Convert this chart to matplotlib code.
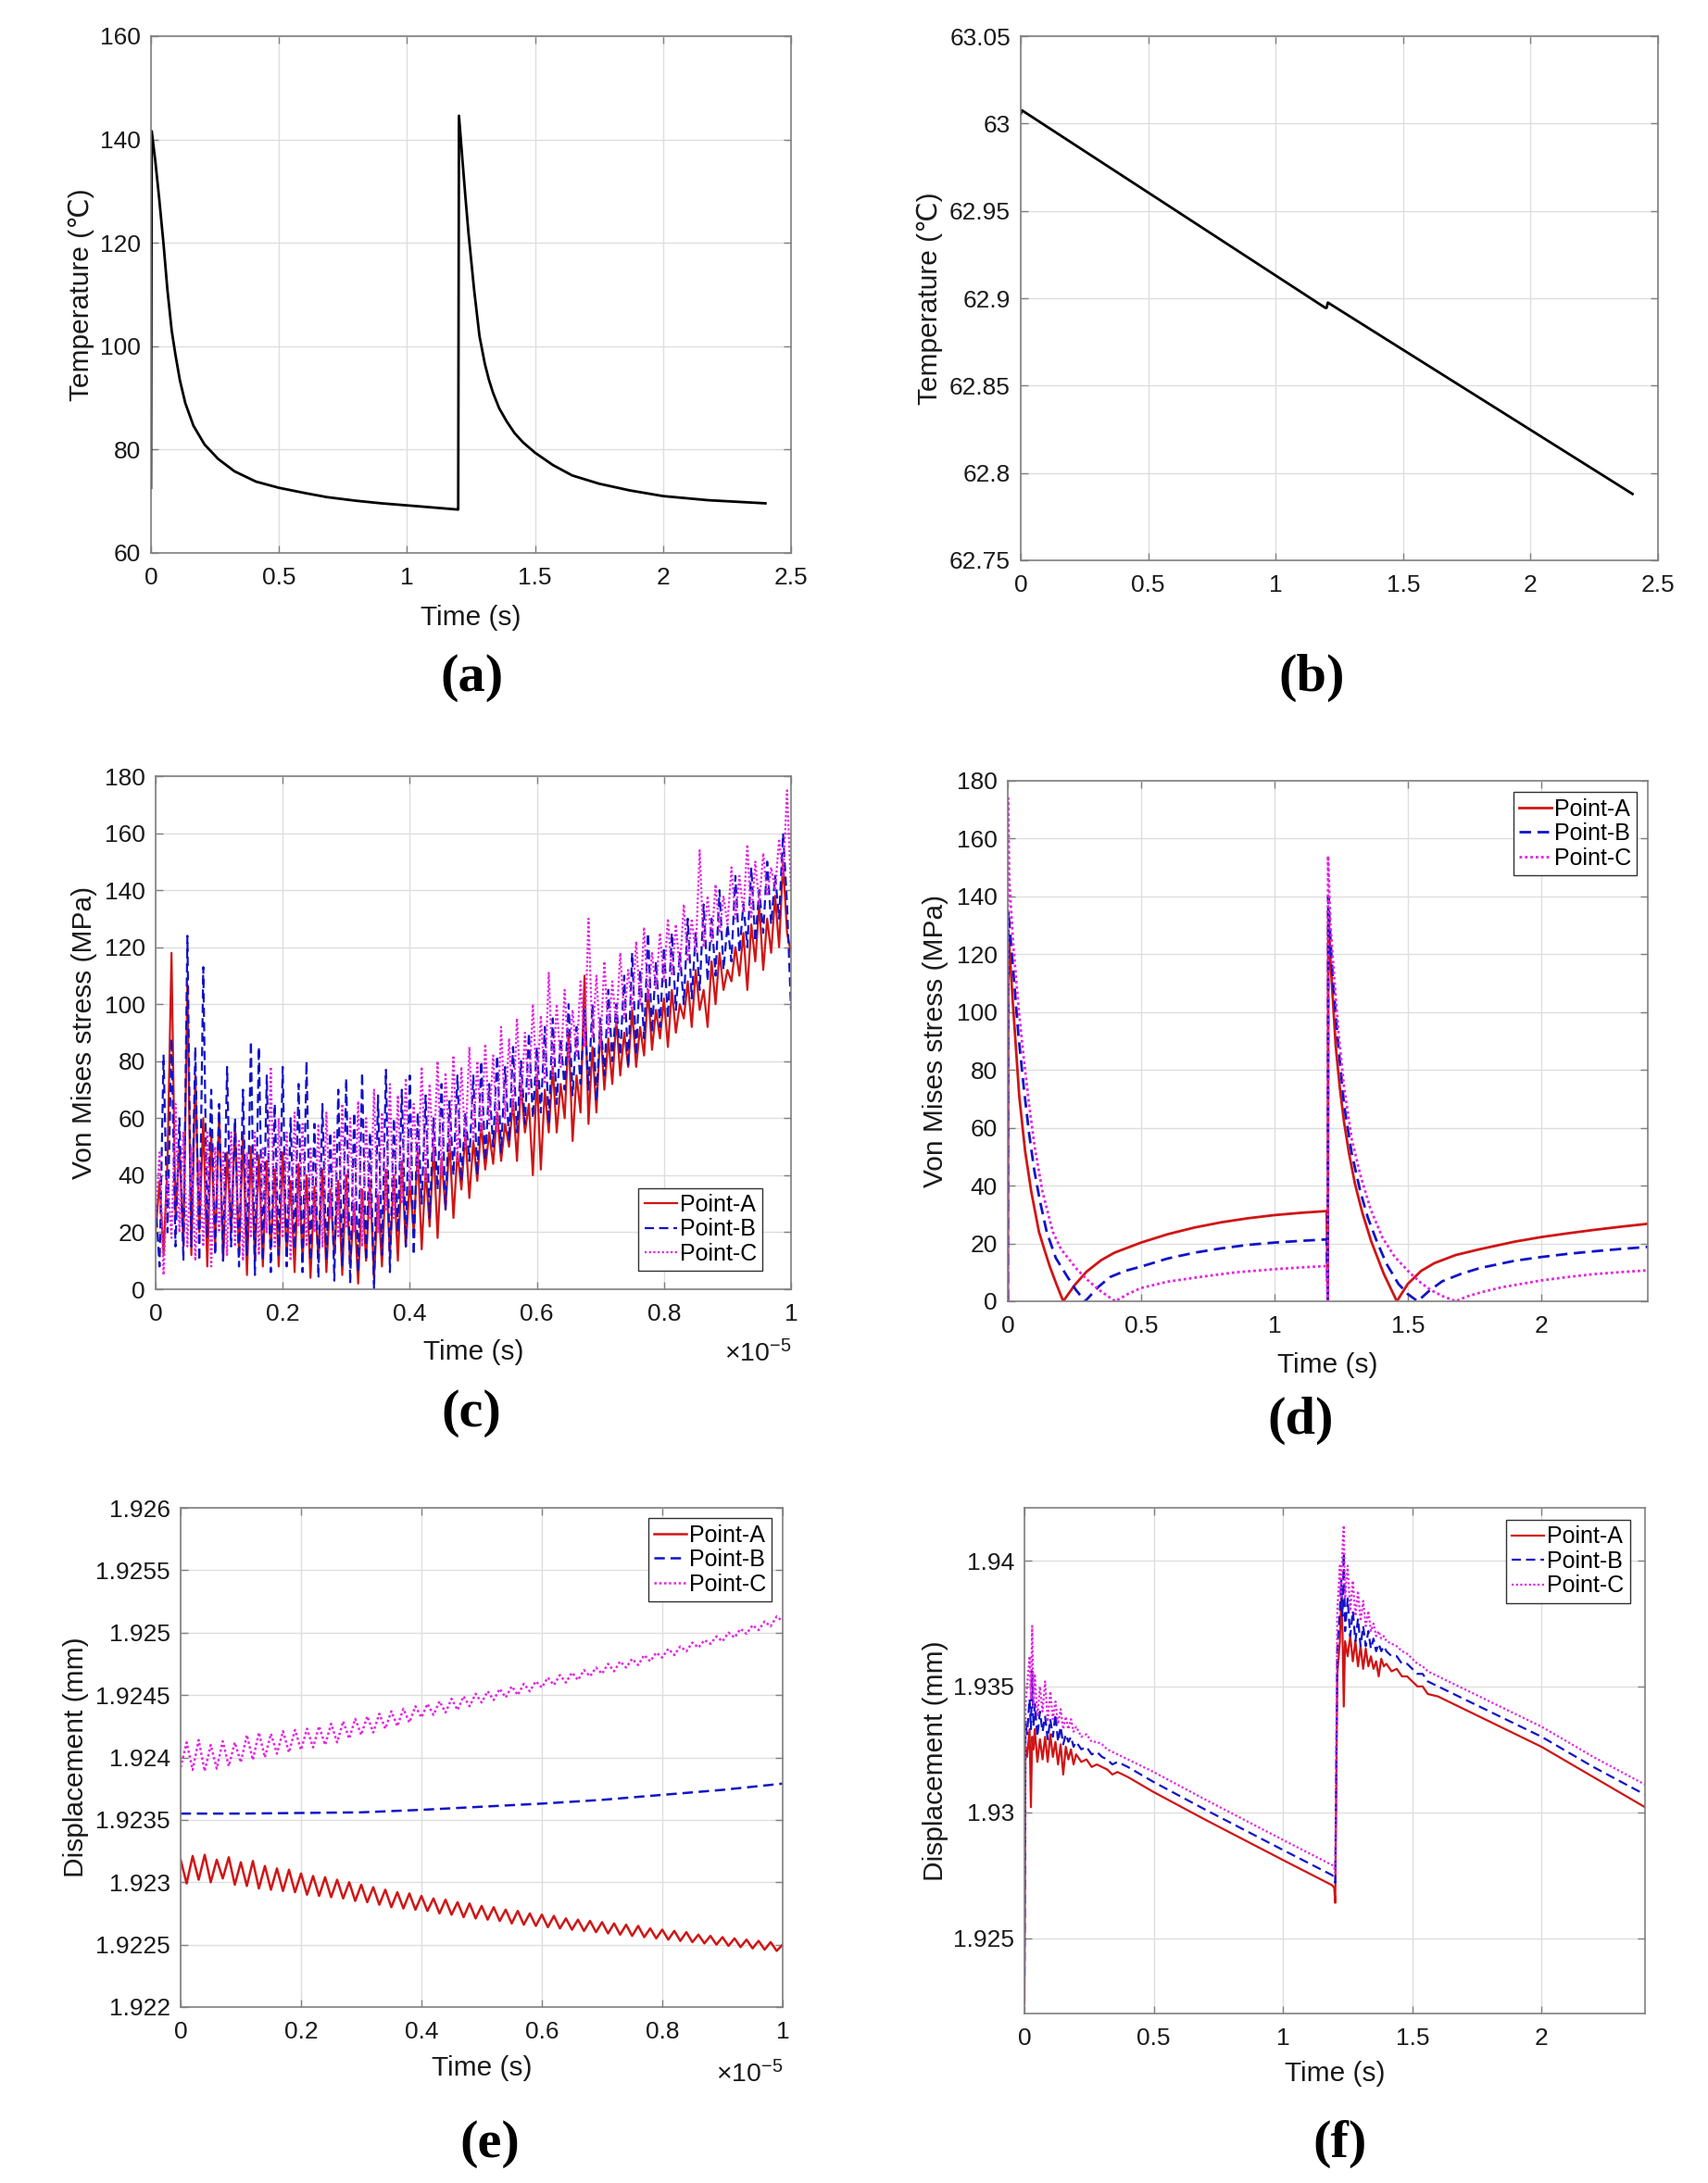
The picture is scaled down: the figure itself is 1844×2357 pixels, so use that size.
import numpy as np
import matplotlib
matplotlib.use('Agg')
import matplotlib.pyplot as plt
from matplotlib.ticker import FuncFormatter

plt.rcParams['font.family'] = ['Liberation Sans', 'DejaVu Sans']
plt.rcParams['mathtext.fontset'] = 'custom'
plt.rcParams['mathtext.rm'] = 'Liberation Sans'
plt.rcParams['mathtext.it'] = 'Liberation Sans'

# ---------------- data ----------------
# (a) temperature, point on surface
ta = [0, 0.003, 0.017, 0.032, 0.049, 0.064, 0.081, 0.096, 0.113, 0.134,
      0.166, 0.209, 0.262, 0.326, 0.41, 0.5, 0.6, 0.687, 0.8, 0.9,
      1.05, 1.198, 1.2, 1.203, 1.215, 1.228, 1.24, 1.262, 1.283, 1.304,
      1.32, 1.336, 1.36, 1.39, 1.42, 1.453, 1.5, 1.57, 1.645, 1.75,
      1.87, 2.0, 2.177, 2.4]
Ta = [72.6, 141.6, 135.8, 128.6, 119.8, 111, 103, 98.2, 93.4, 89,
      84.6, 81, 78.2, 75.8, 73.8, 72.6, 71.6, 70.8, 70.1, 69.6,
      69, 68.4, 68.4, 144.6, 137, 129, 122, 111, 102, 96.6,
      93.5, 91, 88, 85.4, 83.2, 81.4, 79.4, 77, 75, 73.4,
      72.1, 71, 70.2, 69.6]

# (b) temperature, inner point
tb = [0, 0.005, 1.195, 1.2, 1.205, 2.4]
Tb = [63.0055, 63.0075, 62.8945, 62.8945, 62.8975, 62.788]

# (c) Von Mises stress, first 1e-5 s (time in units of 1e-5 s)
c_A = [20, 38, 12, 45, 118, 25, 50, 15, 107, 12,
       75, 20, 60, 8, 55, 15, 62, 10, 48, 20,
       58, 12, 55, 5, 50, 10, 47, 8, 45, 14,
       42, 8, 48, 12, 38, 6, 44, 10, 40, 4,
       36, 10, 42, 6, 35, 12, 38, 5, 40, 8,
       30, 2, 35, 10, 38, 4, 33, 8, 42, 12,
       40, 10, 45, 15, 38, 20, 48, 14, 42, 22,
       50, 18, 46, 28, 52, 25, 48, 35, 55, 32,
       52, 38, 58, 42, 55, 44, 62, 45, 58, 50,
       66, 45, 72, 55, 65, 40, 75, 42, 70, 55,
       78, 55, 72, 60, 90, 52, 75, 62, 110, 58,
       85, 62, 92, 70, 88, 72, 95, 75, 90, 78,
       98, 78, 92, 82, 105, 84, 98, 88, 102, 85,
       105, 90, 100, 95, 108, 92, 112, 98, 105, 92,
       115, 100, 118, 105, 112, 108, 120, 110, 125, 105,
       128, 115, 135, 112, 130, 118, 138, 120, 150, 125,
       118]
c_B = [30, 8, 82, 20, 88, 15, 60, 10, 124, 15,
       85, 10, 113, 18, 70, 12, 65, 10, 78, 15,
       60, 8, 70, 12, 87, 5, 85, 10, 75, 6,
       65, 12, 78, 8, 60, 14, 72, 6, 80, 10,
       58, 4, 65, 10, 55, 3, 70, 8, 74, 2,
       62, 6, 76, 10, 55, 0, 68, 12, 77, 6,
       60, 20, 70, 15, 75, 12, 62, 30, 68, 25,
       60, 35, 72, 28, 66, 40, 75, 38, 62, 45,
       75, 40, 80, 45, 72, 50, 82, 48, 78, 52,
       85, 55, 80, 58, 90, 60, 85, 62, 92, 58,
       95, 65, 88, 70, 100, 68, 92, 72, 98, 70,
       100, 66, 95, 75, 105, 80, 100, 82, 110, 78,
       118, 82, 112, 88, 125, 90, 115, 92, 120, 95,
       125, 98, 118, 100, 130, 102, 125, 105, 135, 108,
       130, 110, 140, 112, 128, 115, 145, 118, 135, 120,
       148, 122, 140, 125, 150, 128, 145, 130, 160, 135,
       98]
c_C = [25, 48, 5, 40, 18, 65, 20, 55, 15, 50,
       10, 45, 15, 55, 8, 50, 20, 48, 12, 55,
       15, 52, 10, 48, 18, 55, 12, 50, 20, 78,
       15, 60, 18, 55, 10, 62, 22, 58, 15, 50,
       20, 58, 15, 62, 25, 55, 18, 65, 22, 60,
       20, 66, 15, 60, 25, 70, 20, 62, 28, 72,
       25, 68, 30, 74, 35, 65, 40, 78, 38, 72,
       45, 80, 40, 76, 48, 82, 45, 78, 50, 85,
       52, 80, 55, 86, 58, 82, 55, 92, 60, 88,
       62, 95, 65, 90, 68, 100, 70, 96, 72, 111,
       75, 100, 78, 105, 80, 98, 82, 108, 85, 130,
       88, 110, 85, 115, 90, 108, 92, 118, 95, 112,
       98, 122, 100, 127, 102, 118, 105, 125, 108, 130,
       110, 128, 112, 135, 115, 130, 118, 154, 120, 138,
       122, 142, 125, 138, 128, 148, 130, 145, 132, 156,
       130, 150, 135, 153, 138, 148, 140, 158, 145, 175,
       140]
tc = np.linspace(0, 1, len(c_A))

# (d) Von Mises stress, two cycles
tdA = [0, 0.002, 0.02, 0.043, 0.065, 0.088, 0.117, 0.137, 0.157, 0.18,
       0.208, 0.25, 0.295, 0.35, 0.4, 0.5, 0.6, 0.7, 0.8, 0.9,
       1.0, 1.1, 1.196, 1.2, 1.202, 1.21, 1.23, 1.245, 1.261, 1.28,
       1.302, 1.33, 1.363, 1.41, 1.459, 1.5, 1.55, 1.6, 1.68, 1.77,
       1.9, 2.0, 2.1, 2.2, 2.3, 2.4]
sA = [0, 128, 102, 71, 52, 38, 24, 18, 12.2, 6.5,
      0, 5.5, 10.2, 14.2, 16.8, 20.3, 23.2, 25.5, 27.3, 28.7,
      29.8, 30.6, 31.2, 0, 135, 118, 88, 74, 62, 51,
      40.6, 30.5, 20.7, 9.5, 0, 6, 10.5, 13.2, 16, 18,
      20.6, 22.2, 23.5, 24.7, 25.8, 26.8]
tdB = [0, 0.002, 0.02, 0.04, 0.06, 0.08, 0.1, 0.12, 0.146, 0.18,
       0.22, 0.255, 0.29, 0.34, 0.384, 0.44, 0.5, 0.6, 0.7, 0.8,
       0.9, 1.0, 1.1, 1.196, 1.2, 1.202, 1.21, 1.22, 1.24, 1.261,
       1.29, 1.322, 1.35, 1.384, 1.42, 1.465, 1.5, 1.537, 1.58, 1.629,
       1.7, 1.771, 1.9, 2.0, 2.1, 2.2, 2.3, 2.4]
sB = [0, 135, 115, 92, 74, 58, 45, 35, 24, 15,
      9, 4, 0, 5, 8.4, 10.5, 12, 14.8, 16.8, 18.3,
      19.5, 20.3, 20.9, 21.4, 0, 140, 125, 110, 88, 68,
      51, 38, 29, 20.7, 13, 6, 2.5, 0, 3.6, 6.9,
      9.5, 11.5, 14, 15.3, 16.4, 17.3, 18.1, 18.8]
tdC = [0, 0.001, 0.006, 0.02, 0.04, 0.06, 0.08, 0.1, 0.13, 0.169,
       0.2, 0.26, 0.3, 0.344, 0.403, 0.45, 0.5, 0.6, 0.736, 0.853,
       1.0, 1.1, 1.196, 1.2, 1.201, 1.21, 1.22, 1.24, 1.261, 1.29,
       1.322, 1.36, 1.404, 1.45, 1.506, 1.55, 1.588, 1.63, 1.68, 1.72,
       1.771, 1.85, 2.0, 2.1, 2.2, 2.3, 2.4]
sC = [0, 174, 145, 124, 102, 84, 68, 54, 38, 24,
      18, 11, 7.3, 3.8, 0, 2.5, 4.6, 6.8, 8.6, 10,
      11.1, 11.7, 12.2, 0, 154, 130, 117, 93, 74, 56,
      43.7, 32, 22.2, 15.5, 10, 6.3, 3.8, 1.8, 0, 1.6,
      3, 4.8, 7.2, 8.4, 9.4, 10.1, 10.7]

# (e) displacement, first 1e-5 s (time in units of 1e-5 s)
e_A = [1.92318, 1.92299, 1.92321, 1.92302, 1.92322, 1.92300, 1.92318, 1.92303, 1.92320, 1.92298,
       1.92316, 1.92297, 1.92317, 1.92295, 1.92313, 1.92294, 1.92311, 1.92293, 1.92310, 1.92292,
       1.92307, 1.92290, 1.92305, 1.92289, 1.92304, 1.92288, 1.92302, 1.92287, 1.92300, 1.92285,
       1.92298, 1.92284, 1.92296, 1.92282, 1.92294, 1.92280, 1.92292, 1.92279, 1.92291, 1.92278,
       1.92289, 1.92277, 1.92287, 1.92275, 1.92286, 1.92274, 1.92284, 1.92272, 1.92283, 1.92271,
       1.92281, 1.92270, 1.92280, 1.92269, 1.92278, 1.92267, 1.92277, 1.92266, 1.92275, 1.92265,
       1.92274, 1.92264, 1.92273, 1.92263, 1.92271, 1.92262, 1.92270, 1.92261, 1.92269, 1.92260,
       1.92268, 1.92259, 1.92267, 1.92258, 1.92266, 1.92257, 1.92265, 1.92256, 1.92263, 1.92255,
       1.92262, 1.92254, 1.92261, 1.92253, 1.92260, 1.92252, 1.92258, 1.92251, 1.92257, 1.92250,
       1.92256, 1.92249, 1.92255, 1.92248, 1.92254, 1.92247, 1.92253, 1.92246, 1.92252, 1.92245,
       1.92250]
e_C = [1.92392, 1.92412, 1.92390, 1.92414, 1.92389, 1.92410, 1.92391, 1.92413, 1.92393, 1.92412,
       1.92396, 1.92418, 1.92398, 1.92420, 1.92400, 1.92419, 1.92403, 1.92421, 1.92404, 1.92422,
       1.92406, 1.92423, 1.92408, 1.92425, 1.92410, 1.92427, 1.92412, 1.92429, 1.92415, 1.92431,
       1.92418, 1.92433, 1.92420, 1.92435, 1.92423, 1.92437, 1.92425, 1.92439, 1.92428, 1.92441,
       1.92432, 1.92443, 1.92434, 1.92445, 1.92436, 1.92447, 1.92438, 1.92449, 1.92441, 1.92451,
       1.92444, 1.92453, 1.92446, 1.92455, 1.92448, 1.92457, 1.92450, 1.92459, 1.92453, 1.92461,
       1.92456, 1.92464, 1.92458, 1.92466, 1.92460, 1.92468, 1.92462, 1.92470, 1.92465, 1.92472,
       1.92467, 1.92475, 1.92469, 1.92477, 1.92472, 1.92479, 1.92474, 1.92482, 1.92477, 1.92484,
       1.92480, 1.92487, 1.92482, 1.92489, 1.92485, 1.92492, 1.92488, 1.92494, 1.92491, 1.92497,
       1.92493, 1.92500, 1.92496, 1.92503, 1.92499, 1.92506, 1.92502, 1.92509, 1.92505, 1.92513,
       1.92509]
te = np.linspace(0, 1, len(e_A))
te_B = [0, 0.1, 0.2, 0.3, 0.4, 0.5, 0.6, 0.7, 0.8, 0.9, 1.0]
e_B = [1.92355, 1.92355, 1.923555, 1.92356, 1.92358, 1.923605, 1.92363, 1.92366, 1.9237, 1.92374, 1.92379]

# (f) displacement, two cycles
tf = [0, 0.004, 0.01, 0.02, 0.025, 0.03, 0.035, 0.04, 0.05, 0.06,
      0.07, 0.08, 0.09, 0.1, 0.11, 0.12, 0.13, 0.14, 0.15, 0.16,
      0.17, 0.18, 0.19, 0.2, 0.22, 0.24, 0.26, 0.28, 0.3, 0.32,
      0.34, 0.36, 0.4, 0.5, 0.7, 1.0, 1.19, 1.198, 1.202, 1.21,
      1.22, 1.225, 1.23, 1.235, 1.24, 1.25, 1.26, 1.27, 1.28, 1.29,
      1.3, 1.31, 1.32, 1.33, 1.34, 1.35, 1.36, 1.37, 1.38, 1.39,
      1.4, 1.42, 1.44, 1.46, 1.48, 1.5, 1.52, 1.54, 1.56, 1.6,
      1.8, 2.0, 2.2, 2.4]
f_A = [1.9224, 1.9326, 1.9322, 1.9333, 1.9302, 1.9330, 1.9325, 1.9333, 1.9320, 1.9329,
       1.9321, 1.9330, 1.9320, 1.9331, 1.9322, 1.9328, 1.9319, 1.9327, 1.9315, 1.9326,
       1.9321, 1.9325, 1.9319, 1.9323, 1.9320, 1.9321, 1.9318, 1.9319, 1.9318, 1.9317,
       1.9315, 1.9316, 1.9314, 1.9308, 1.9297, 1.9281, 1.9271, 1.9270, 1.9264, 1.9355,
       1.9368, 1.9385, 1.9372, 1.9342, 1.9368, 1.9362, 1.9370, 1.9360, 1.9368, 1.9358,
       1.9366, 1.9357, 1.9365, 1.9358, 1.9362, 1.9357, 1.9360, 1.9354, 1.9361, 1.9358,
       1.9359, 1.9356, 1.9357, 1.9354, 1.9354, 1.9352, 1.9350, 1.9350, 1.9347, 1.9346,
       1.9336, 1.9326, 1.9314, 1.9302]
f_B = [1.9235, 1.9336, 1.9331, 1.9345, 1.9333, 1.9356, 1.9334, 1.9343, 1.9330, 1.9340,
       1.9332, 1.9338, 1.9329, 1.9337, 1.9330, 1.9339, 1.9328, 1.9334, 1.9327, 1.9331,
       1.9328, 1.9330, 1.9326, 1.9328, 1.9325, 1.9326, 1.9323, 1.9324, 1.9322, 1.9321,
       1.9319, 1.9320, 1.9318, 1.9312, 1.9301, 1.9285, 1.9275, 1.9274, 1.9272, 1.9365,
       1.9380, 1.9392, 1.9378, 1.9403, 1.9372, 1.9385, 1.9370, 1.9380, 1.9368, 1.9377,
       1.9366, 1.9374, 1.9366, 1.9372, 1.9365, 1.9369, 1.9364, 1.9367, 1.9364, 1.9366,
       1.9364, 1.9362, 1.9362, 1.9359, 1.9359, 1.9357, 1.9355, 1.9355, 1.9352, 1.9350,
       1.9340, 1.9330, 1.9318, 1.9307]
f_C = [1.9239, 1.9343, 1.9350, 1.9362, 1.9345, 1.9374, 1.9342, 1.9355, 1.9338, 1.9350,
       1.9340, 1.9352, 1.9336, 1.9348, 1.9337, 1.9344, 1.9335, 1.9341, 1.9333, 1.9338,
       1.9333, 1.9337, 1.9332, 1.9334, 1.9330, 1.9331, 1.9328, 1.9328, 1.9327, 1.9325,
       1.9324, 1.9323, 1.9321, 1.9316, 1.9305, 1.9289, 1.9279, 1.9278, 1.9276, 1.9380,
       1.9398, 1.9385, 1.9405, 1.9414, 1.9385, 1.9398, 1.9380, 1.9392, 1.9378, 1.9388,
       1.9376, 1.9384, 1.9374, 1.9380, 1.9372, 1.9375, 1.9370, 1.9372, 1.9369, 1.9370,
       1.9368, 1.9367, 1.9366, 1.9364, 1.9363, 1.9361, 1.9359, 1.9358, 1.9356, 1.9354,
       1.9344, 1.9334, 1.9322, 1.9311]

legend_labels = ['Point-A', 'Point-B', 'Point-C']
panel_tags = ['(a)', '(b)', '(c)', '(d)', '(e)', '(f)']

# ---------------- styling ----------------
W, H = 1844, 2357
fig = plt.figure(figsize=(W / 100, H / 100), dpi=100, facecolor='white')

RED = '#d01515'
BLUE = '#1212c8'
MAG = '#e423e4'
DASH = (0, (4.5, 2.5))
DOT = (0, (1, 1.1))

TICK_FS = 19
LAB_FS = 21.5
LEG_FS = 18

fmt = FuncFormatter(lambda v, p: '%g' % round(v, 6))


def make_ax(L, R, T, B):
    return fig.add_axes([L / W, 1 - B / H, (R - L) / W, (B - T) / H])


def style(ax):
    ax.grid(True, color='#dedede', linewidth=1.0)
    ax.set_axisbelow(True)
    for s in ax.spines.values():
        s.set_color('#808080')
        s.set_linewidth(1.2)
    ax.tick_params(direction='in', length=6, width=1.0, color='#808080',
                   top=True, right=True, labelsize=TICK_FS,
                   labelcolor='#1a1a1a')
    ax.tick_params(axis='x', pad=11)
    ax.tick_params(axis='y', pad=8)
    ax.xaxis.set_major_formatter(fmt)
    ax.yaxis.set_major_formatter(fmt)


def legend(ax, loc, anchor):
    leg = ax.legend(legend_labels, loc=loc, bbox_to_anchor=anchor,
                    fontsize=LEG_FS, frameon=True, fancybox=False,
                    edgecolor='#303030', framealpha=1, borderpad=0.25,
                    labelspacing=0.1, handlelength=1.4, handletextpad=0.12,
                    borderaxespad=0)
    leg.get_frame().set_linewidth(1.0)


def ylab(ax, text, x):
    ax.set_ylabel(text, fontsize=LAB_FS, color='#1a1a1a')
    ax.yaxis.set_label_coords(x, 0.5)


def xlab(ax, y):
    ax.set_xlabel('Time (s)', fontsize=LAB_FS, color='#1a1a1a', va='top')
    ax.xaxis.set_label_coords(0.5, y)


# (a)
ax = make_ax(163, 854, 39, 597)
style(ax)
ax.plot(ta, Ta, color='black', lw=2.0)
ax.set_xlim(0, 2.5)
ax.set_ylim(60, 160)
ax.set_xticks(np.arange(0, 2.51, 0.5))
ax.set_yticks(np.arange(60, 161, 20))
ylab(ax, 'Temperature (\u2103)', -0.088)
xlab(ax, -0.1)

# (b)
ax = make_ax(1102, 1790, 39, 605)
style(ax)
ax.plot(tb, Tb, color='black', lw=2.0)
ax.set_xlim(0, 2.5)
ax.set_ylim(62.75, 63.05)
ax.set_xticks(np.arange(0, 2.51, 0.5))
ax.set_yticks(np.arange(62.75, 63.051, 0.05))
ylab(ax, 'Temperature (\u2103)', -0.122)

# (c)
ax = make_ax(168, 854, 838, 1392)
style(ax)
ax.plot(tc, c_A, color=RED, lw=1.6, label=legend_labels[0])
ax.plot(tc, c_B, color=BLUE, lw=1.6, ls=DASH, label=legend_labels[1])
ax.plot(tc, c_C, color=MAG, lw=1.6, ls=DOT, label=legend_labels[2])
ax.set_xlim(0, 1)
ax.set_ylim(0, 180)
ax.set_xticks(np.arange(0, 1.01, 0.2))
ax.set_yticks(np.arange(0, 181, 20))
ylab(ax, 'Von Mises stress (MPa)', -0.092)
xlab(ax, -0.097)
ax.text(1.0, -0.1, r'$\times10^{-5}$', transform=ax.transAxes,
        ha='right', va='top', fontsize=20.5, color='#1a1a1a')
legend(ax, 'lower right', (0.955, 0.036))

# (d)
ax = make_ax(1088, 1779, 843, 1405)
style(ax)
ax.plot(tdA, sA, color=RED, lw=2.0)
ax.plot(tdB, sB, color=BLUE, lw=2.0, ls=DASH)
ax.plot(tdC, sC, color=MAG, lw=2.0, ls=DOT)
ax.set_xlim(0, 2.4)
ax.set_ylim(0, 180)
ax.set_xticks(np.arange(0, 2.41, 0.5))
ax.set_yticks(np.arange(0, 181, 20))
ylab(ax, 'Von Mises stress (MPa)', -0.093)
xlab(ax, -0.097)
legend(ax, 'upper right', (0.983, 0.978))

# (e)
ax = make_ax(195, 845, 1628, 2167)
style(ax)
ax.plot(te, e_A, color=RED, lw=1.8)
ax.plot(te_B, e_B, color=BLUE, lw=1.8, ls=DASH)
ax.plot(te, e_C, color=MAG, lw=1.8, ls=DOT)
ax.set_xlim(0, 1)
ax.set_ylim(1.922, 1.926)
ax.set_xticks(np.arange(0, 1.01, 0.2))
ax.set_yticks(np.arange(1.922, 1.92601, 0.0005))
ylab(ax, 'Displacement (mm)', -0.152)
xlab(ax, -0.096)
ax.text(1.0, -0.108, r'$\times10^{-5}$', transform=ax.transAxes,
        ha='right', va='top', fontsize=20.5, color='#1a1a1a')
legend(ax, 'upper right', (0.982, 0.979))

# (f)
ax = make_ax(1106, 1776, 1628, 2174)
style(ax)
ax.plot(tf, f_A, color=RED, lw=1.6)
ax.plot(tf, f_B, color=BLUE, lw=1.6, ls=DASH)
ax.plot(tf, f_C, color=MAG, lw=1.6, ls=DOT)
ax.set_xlim(0, 2.4)
ax.set_ylim(1.922, 1.9421)
ax.set_xticks(np.arange(0, 2.41, 0.5))
ax.set_yticks([1.925, 1.93, 1.935, 1.94])
ylab(ax, 'Displacement (mm)', -0.122)
xlab(ax, -0.093)
legend(ax, 'upper right', (0.976, 0.976))

# panel tags
tag_pos = [(509, 732), (1416, 732), (509, 1526), (1404, 1534), (529, 2315), (1447, 2315)]
for tag, (px, py) in zip(panel_tags, tag_pos):
    fig.text(px / W, 1 - py / H, tag, ha='center', va='center',
             fontsize=42, fontweight='bold', family='Liberation Serif')

fig.savefig('out.png', dpi=100, facecolor='white')
